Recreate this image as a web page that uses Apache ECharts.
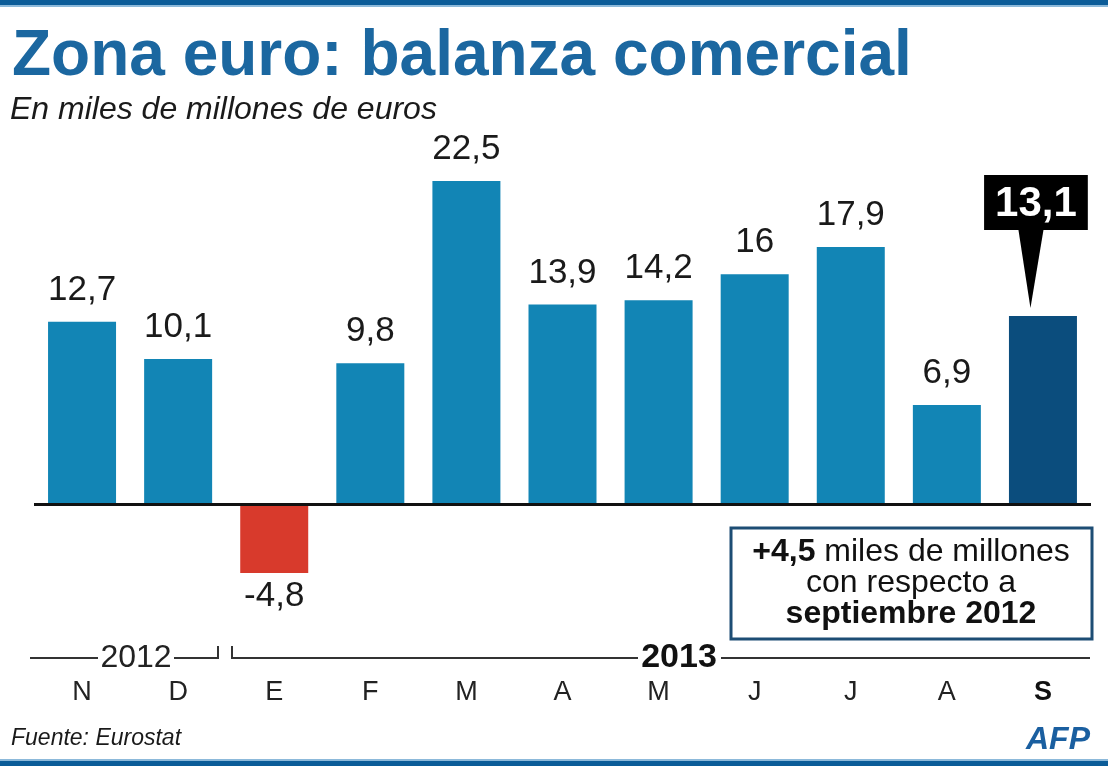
<!DOCTYPE html>
<html><head><meta charset="utf-8">
<script src="https://cdn.jsdelivr.net/npm/echarts@6/dist/echarts.min.js"></script>
<style>html,body{margin:0;padding:0;background:#fff}#c{width:1108px;height:766px}</style>
</head><body><div id="c"></div>
<script>
const months = ['N','D','E','F','M','A','M','J','J','A','S'];
const values = [12.7,10.1,-4.8,9.8,22.5,13.9,14.2,16,17.9,6.9,13.1];
const years = ['2012','2013'];
const titleText = 'Zona euro: balanza comercial';
const subtitleText = 'En miles de millones de euros';
const sourceText = 'Fuente: Eurostat';
const noteLines = ['{b|+4,5} miles de millones','con respecto a','{b|septiembre 2012}'];

const FONT = "'Liberation Sans', Arial, Helvetica, sans-serif";
const BLUE = '#1285b5', DARK = '#0b4d7d', RED = '#d83a2c';
const last = values.length - 1;
const fmt = v => String(v).replace('.', ',');

const data = values.map((v, i) => {
  const item = { value: v, itemStyle: { color: i === last ? DARK : (v < 0 ? RED : BLUE) } };
  if (v < 0) item.label = { position: 'bottom', distance: 6 };
  if (i === last) item.label = {
    position: 'top', distance: 86, offset: [-7, 0],
    backgroundColor: '#000', color: '#fff', fontWeight: 'bold', fontSize: 42,
    padding: [8, 11, 5, 11]
  };
  return item;
});

const chart = echarts.init(document.getElementById('c'), null, { renderer: 'canvas' });
chart.setOption({
  animation: false,
  backgroundColor: '#fff',
  textStyle: { fontFamily: FONT },
  grid: { left: 34, right: 17, top: 145.1, bottom: 118.4 },
  xAxis: {
    type: 'category', data: months,
    axisLine: { show: false }, axisTick: { show: false },
    axisLabel: {
      margin: 31, fontSize: 27, color: '#222', fontFamily: FONT,
      formatter: (v, i) => i === last ? '{b|' + v + '}' : v,
      rich: { b: { fontWeight: 'bold', fontSize: 27, color: '#111', fontFamily: FONT } }
    }
  },
  yAxis: { type: 'value', min: -10, max: 25, show: false, splitLine: { show: false } },
  series: [{
    type: 'bar', data: data, barWidth: 68,
    label: {
      show: true, position: 'top', distance: 14, fontSize: 35, color: '#1a1a1a',
      fontFamily: FONT, formatter: p => fmt(p.value)
    },
    markLine: {
      silent: true, symbol: 'none', label: { show: false },
      lineStyle: { color: '#111', width: 3, type: 'solid' },
      data: [{ yAxis: 0 }]
    },
    markPoint: {
      silent: true,
      symbol: 'path://M0,0L25,0L12,78Z', symbolKeepAspect: false,
      symbolSize: [25, 78], symbolOffset: [-12, -47],
      itemStyle: { color: '#000' }, label: { show: false },
      data: [{ coord: [last, values[last]] }]
    }
  }],
  graphic: [
    { type: 'rect', shape: { x: 0, y: 0, width: 1108, height: 5 }, style: { fill: '#0b5c98' } },
    { type: 'rect', shape: { x: 0, y: 5, width: 1108, height: 2 }, style: { fill: '#8cb9da' } },
    { type: 'rect', shape: { x: 0, y: 759, width: 1108, height: 2 }, style: { fill: '#8cb9da' } },
    { type: 'rect', shape: { x: 0, y: 761, width: 1108, height: 5 }, style: { fill: '#0b5c98' } },
    { type: 'text', left: 12, top: 25, style: { text: titleText, fill: '#1b67a0', font: 'bold 64px ' + FONT } },
    { type: 'text', left: 10, top: 94, style: { text: subtitleText, fill: '#1a1a1a', font: 'italic 32px ' + FONT } },
    { type: 'text', left: 11, top: 727, style: { text: sourceText, fill: '#1a1a1a', font: 'italic 23px ' + FONT } },
    { type: 'text', left: 1026, top: 724, style: { text: 'AFP', fill: '#1a5fa0', font: 'italic 900 32px ' + FONT } },
    // year brackets
    { type: 'polyline', shape: { points: [[30, 658], [98, 658]] }, style: { stroke: '#333', lineWidth: 2, fill: null } },
    { type: 'text', x: 136, y: 658, style: { text: years[0], fill: '#222', font: '32px ' + FONT, align: 'center', verticalAlign: 'middle' } },
    { type: 'polyline', shape: { points: [[174, 658], [218, 658], [218, 646]] }, style: { stroke: '#333', lineWidth: 2, fill: null } },
    { type: 'polyline', shape: { points: [[232, 646], [232, 658], [638, 658]] }, style: { stroke: '#333', lineWidth: 2, fill: null } },
    { type: 'text', x: 679, y: 658, style: { text: years[1], fill: '#111', font: 'bold 34px ' + FONT, align: 'center', verticalAlign: 'middle' } },
    { type: 'polyline', shape: { points: [[721, 658], [1090, 658]] }, style: { stroke: '#333', lineWidth: 2, fill: null } },
    // note box
    { type: 'rect', shape: { x: 731, y: 528, width: 361, height: 111 }, style: { fill: '#fff', stroke: '#1d4d74', lineWidth: 3 } },
    { type: 'text', x: 911, y: 583, style: {
        text: noteLines.join('\n'), fill: '#111', font: '32px ' + FONT, lineHeight: 31,
        align: 'center', verticalAlign: 'middle',
        rich: { b: { fontWeight: 'bold', fontSize: 32, fontFamily: FONT, fill: '#111', lineHeight: 31 } }
    } }
  ]
});
</script></body></html>
